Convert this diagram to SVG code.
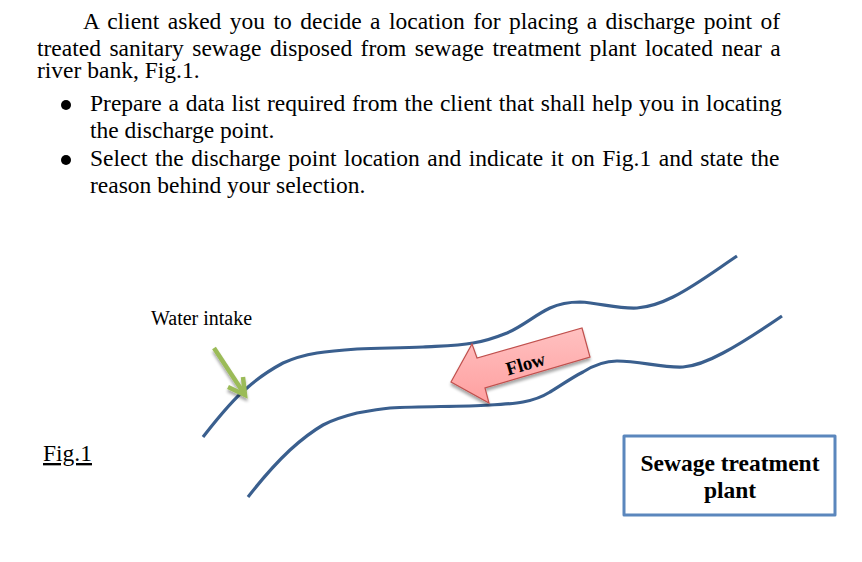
<svg xmlns="http://www.w3.org/2000/svg" width="862" height="562" viewBox="0 0 862 562">
<defs>
<linearGradient id="pink" gradientUnits="userSpaceOnUse" x1="520" y1="330" x2="520" y2="405"><stop offset="0" stop-color="#ffc0c0"/><stop offset="1" stop-color="#ff9f9f"/></linearGradient>
<filter id="sh" x="-20%" y="-20%" width="140%" height="150%"><feGaussianBlur in="SourceAlpha" stdDeviation="1.6"/><feOffset dx="0" dy="2.5"/><feComponentTransfer><feFuncA type="linear" slope="0.35"/></feComponentTransfer><feMerge><feMergeNode/><feMergeNode in="SourceGraphic"/></feMerge></filter>
</defs>
<style>
text{font-family:"Liberation Serif","Times New Roman",serif;fill:#000}
.b{font-size:23.5px}
.river{fill:none;stroke:#3a5f8e;stroke-width:3.2}
</style>
<rect width="862" height="562" fill="#fff"/>
<g id="question">
<text class="b" x="83" y="29" word-spacing="2.6">A client asked you to decide a location for placing a discharge point of</text>
<text class="b" x="37" y="56" word-spacing="2.6">treated sanitary sewage disposed from sewage treatment plant located near a</text>
<text class="b" x="37" y="78">river bank, Fig.1.</text>
<circle cx="66" cy="105" r="5"/>
<text class="b" x="90" y="111" word-spacing="0.86">Prepare a data list required from the client that shall help you in locating</text>
<text class="b" x="90" y="138">the discharge point.</text>
<circle cx="66" cy="160" r="5"/>
<text class="b" x="90" y="166" word-spacing="1.64">Select the discharge point location and indicate it on Fig.1 and state the</text>
<text class="b" x="90" y="193">reason behind your selection.</text>
</g>
<g id="connectors">
<path id="river-upper" class="river" d="M203 437C217 419 232 400 247 388C258 378 270 370 283 363C294 358 305 355 317 353C330 351 343 350 357 349C380 348 400 348 423 347C442 346 458 346 473 343C487 341 497 337 507 333C523 326 535 315 550 308C561 303 570 302 580 302C600 303 618 309 637 308C650 307 661 303 673 297C695 286 716 270 737 256"/>
<path id="river-lower" class="river" d="M248 497C262 479 275 464 290 450C301 440 311 432 323 425C334 419 345 416 357 413C368 411 379 409 390 408C425 406 458 407 490 405C503 404 513 404 523 402C534 400 542 397 550 392C562 385 571 378 583 372C594 365 605 361 617 361C640 361 662 368 683 367C697 366 710 360 723 353C744 342 763 329 782 316"/>
<g id="intake-arrow" fill="none" stroke="#9bbb59" stroke-width="4.5" filter="url(#sh)">
<path d="M214 348L245 395"/>
<path d="M243 377L245 395L228 387" stroke-linejoin="miter"/>
</g>
</g>
<g id="water-intake"><text x="151" y="325" font-size="20">Water intake</text></g>
<g id="flow-arrow">
<path d="M582 328L590 357L485 388L489 403L451 382L472 344L477 358Z" fill="url(#pink)" stroke="#c0504d" stroke-width="1.2" stroke-linejoin="miter" filter="url(#sh)"/>
<text x="0" y="0" font-size="19" font-weight="bold" transform="translate(508 375.5) rotate(-16)">Flow</text>
</g>
<g id="fig-label"><text x="43" y="461" font-size="23.5" text-decoration="underline">Fig.1</text></g>
<g id="sewage-plant">
<rect x="624" y="436" width="211" height="79" fill="#fff" stroke="#5b87bd" stroke-width="3" stroke-linejoin="round"/>
<text x="730" y="471" font-size="23.5" font-weight="bold" text-anchor="middle">Sewage treatment</text>
<text x="730" y="498" font-size="23.5" font-weight="bold" text-anchor="middle">plant</text>
</g>
</svg>
